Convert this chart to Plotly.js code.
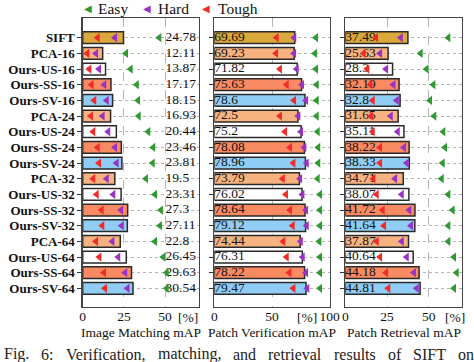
<!DOCTYPE html>
<html><head><meta charset="utf-8">
<script src="https://cdn.plot.ly/plotly-3.0.1.min.js"></script>
<style>html,body{margin:0;padding:0;background:#fff}#chart{width:474px;height:362px}</style>
</head><body><div id="chart"></div>
<script>
const categories = ['SIFT','PCA-16','Ours-US-16','Ours-SS-16','Ours-SV-16','PCA-24','Ours-US-24','Ours-SS-24','Ours-SV-24','PCA-32','Ours-US-32','Ours-SS-32','Ours-SV-32','PCA-64','Ours-US-64','Ours-SS-64','Ours-SV-64'];

const matchMean  = [24.78,12.11,13.87,17.17,18.15,16.93,20.44,23.46,23.81,19.5,23.31,27.3,27.11,22.8,26.45,29.63,30.54];
const matchEasy  = [46.5,26.3,29.1,32.8,33.6,34.0,39.8,42.8,42.5,38.4,43.9,47.5,46.9,43.9,48.9,51.0,51.0];
const matchHard  = [19.6,8.1,9.9,13.1,14.6,12.1,15.5,19.6,20.6,14.6,18.6,23.3,23.7,18.0,21.6,25.8,27.2];
const matchTough = [9.1,2.8,4.0,5.4,7.0,5.0,6.4,9.1,9.9,6.4,8.5,11.5,11.9,8.1,10.1,12.9,13.5];

const verMean  = [69.69,69.23,71.82,75.63,78.6,72.5,75.2,78.08,78.96,73.79,76.02,78.64,79.12,74.44,76.31,78.22,79.47];
const verEasy  = [88.1,87.3,88.1,88.7,88.7,88.7,89.6,90.1,90.1,89.6,91.6,91.6,91.6,91.0,91.6,91.6,91.6];
const verHard  = [69.3,69.1,71.4,76.0,79.5,72.8,75.1,78.0,80.1,74.3,76.3,79.5,80.1,74.9,76.6,79.5,80.6];
const verTough = [54.0,53.5,56.9,62.7,69.1,56.9,61.3,65.6,68.5,59.3,62.1,65.6,67.9,59.8,62.7,65.0,68.5];

const retMean  = [37.49,25.63,28.3,32.19,32.8,31.65,35.11,38.22,38.33,34.71,38.07,41.72,41.64,37.87,40.64,44.18,44.81];
const retEasy  = [61.7,45.1,48.7,52.7,50.7,53.3,58.7,59.7,58.3,57.7,61.7,64.3,61.7,61.7,65.1,66.7,65.1];
const retHard  = [33.2,20.8,24.4,28.8,30.8,27.2,31.4,35.1,36.8,29.8,33.8,38.3,39.3,33.8,36.8,41.1,42.8];
const retTough = [18.4,11.0,13.2,15.0,16.4,15.5,16.4,20.8,20.8,16.8,18.8,22.4,23.2,18.8,20.8,24.4,25.7];

const seriesNames = ['Easy','Hard','Tough'];
const panelTitles = ['Image Matching mAP','Patch Verification mAP','Patch Retrieval mAP'];
const panelTicks = [[0,25,50],[0,50,100],[0,25,50]];
const unitLabel = '[%]';
const captionWords = ['Fig.','6:','Verification,','matching,','and','retrieval','results','of','SIFT','on'];

const FONT = 'Liberation Serif, Times New Roman, serif';
const W = 474, H = 362;
const px = x => x / W;
const py = y => 1 - y / H;

const palette = {SIFT:'#DBA83C', PCA:'#F6B27F', US:'#FFFFFF', SS:'#F98A62', SV:'#90CDF4'};
const barColors = categories.map(c => c === 'SIFT' ? palette.SIFT : c.startsWith('PCA') ? palette.PCA :
  c.includes('-US-') ? palette.US : c.includes('-SS-') ? palette.SS : palette.SV);
const seriesColors = ['#2f9a32', '#9a33c4', '#f22a2a'];

const panels = [
  {xa:'x', ya:'y', mean:matchMean, sets:[matchEasy, matchHard, matchTough], textX:50.3},
  {xa:'x2', ya:'y2', mean:verMean, sets:[verEasy, verHard, verTough], textX:0},
  {xa:'x3', ya:'y3', mean:retMean, sets:[retEasy, retHard, retTough], textX:0}
];

const traces = [];
panels.forEach((p, i) => {
  traces.push({type:'bar', orientation:'h', x:p.mean, y:categories, xaxis:p.xa, yaxis:p.ya,
    width:0.75, marker:{color:barColors, line:{color:'#2a2a2a', width:1.5}},
    showlegend:false, hoverinfo:'skip'});
  traces.push({type:'scatter', mode:'text', x:categories.map(() => p.textX), y:categories,
    xaxis:p.xa, yaxis:p.ya, text:p.mean.map(v => String(v)), textposition:'middle right',
    textfont:{family:FONT, size:13.5, color:'#111'}, showlegend:false, hoverinfo:'skip', cliponaxis:false});
  p.sets.forEach((vals, k) => {
    traces.push({type:'scatter', mode:'markers', x:vals, y:categories, xaxis:p.xa, yaxis:p.ya,
      name:seriesNames[k], showlegend:false,
      marker:{symbol:'triangle-left', size:8, color:seriesColors[k]}, hoverinfo:'skip', cliponaxis:false});
  });
});

const xDomains = [[px(82.7), px(199)], [px(214.3), px(329.7)], [px(345.3), px(461.7)]];
const xRanges = [[0, 70.6], [0, 100], [0, 69.7]];
const unitPos = [64, 80, 65.5];
const yDomain = [py(306.7), py(18.3)];

function xAxis(i) {
  return {domain:xDomains[i], range:xRanges[i], autorange:false, anchor:['y','y2','y3'][i],
    tickmode:'array', tickvals:panelTicks[i], ticks:'', showgrid:true, griddash:'dash',
    gridcolor:'#b5b5b5', gridwidth:1, zeroline:false, showline:true, mirror:true,
    linecolor:'#444', linewidth:1.3, tickfont:{family:FONT, size:13.5, color:'#111'},
    ticklabelstandoff:-3};
}
function yAxis(i) {
  return {domain:yDomain, type:'category', categoryorder:'array', categoryarray:categories,
    range:[categories.length - 1 + 1.17, -1.24], autorange:false, anchor:['x','x2','x3'][i],
    tickmode:'linear', tick0:0, dtick:1,
    showgrid:true, griddash:'dot', gridcolor:'#b5b5b5', gridwidth:1, zeroline:false,
    ticks:'outside', ticklen:4, tickcolor:'#333', tickwidth:1,
    showline:true, mirror:true, linecolor:'#444', linewidth:1.3,
    showticklabels:i === 0, tickfont:{family:FONT, size:13, weight:'bold', color:'#111'}};
}

const annotations = [];
['x','x2','x3'].forEach((xa, i) => {
  annotations.push({xref:xa, yref:'paper', x:unitPos[i], y:py(317.5), text:unitLabel,
    showarrow:false, xanchor:'center', yanchor:'middle', font:{family:FONT, size:13.5, color:'#111'}});
  annotations.push({xref:xa + ' domain', yref:'paper', x:0.5, y:py(332), text:panelTitles[i],
    showarrow:false, xanchor:'center', yanchor:'middle', font:{family:FONT, size:13.5, color:'#111'}});
});

// key: coloured left-pointing triangle glyph + series name
const keySymbolX = [88, 147, 206];
const keyTextX = [96, 156, 216];
seriesNames.forEach((name, k) => {
  annotations.push({xref:'paper', yref:'paper', x:px(keySymbolX[k]), y:py(8.5), text:'\u25C0',
    showarrow:false, xanchor:'center', yanchor:'middle',
    font:{family:'DejaVu Sans', size:10, color:seriesColors[k]}});
  annotations.push({xref:'paper', yref:'paper', x:px(keyTextX[k]), y:py(8.5), text:name,
    showarrow:false, xanchor:'left', yanchor:'middle', font:{family:FONT, size:15.5, color:'#111'}});
});

// justified caption line (measured word widths spread over the page width)
const CAP_SIZE = 16;
const ctx = document.createElement('canvas').getContext('2d');
ctx.font = CAP_SIZE + 'px "Liberation Serif"';
const wordW = captionWords.map(w => ctx.measureText(w).width);
const capLeft = 2, capRight = 472;
const gap = (capRight - capLeft - wordW.reduce((a, b) => a + b, 0)) / (captionWords.length - 1);
let cx = capLeft;
captionWords.forEach((w, k) => {
  annotations.push({xref:'paper', yref:'paper', x:px(cx), y:py(354), text:w,
    showarrow:false, xanchor:'left', yanchor:'middle', font:{family:FONT, size:CAP_SIZE, color:'#222'}});
  cx += wordW[k] + gap;
});

const layout = {
  width:W, height:H, margin:{l:0, r:0, t:0, b:0}, paper_bgcolor:'#fff', plot_bgcolor:'#fff',
  font:{family:FONT, size:13, color:'#111'}, barmode:'overlay', showlegend:false,
  xaxis:xAxis(0), xaxis2:xAxis(1), xaxis3:xAxis(2),
  yaxis:yAxis(0), yaxis2:yAxis(1), yaxis3:yAxis(2),
  annotations:annotations
};

Plotly.newPlot('chart', traces, layout, {displayModeBar:false, staticPlot:true});
</script>
</body></html>
